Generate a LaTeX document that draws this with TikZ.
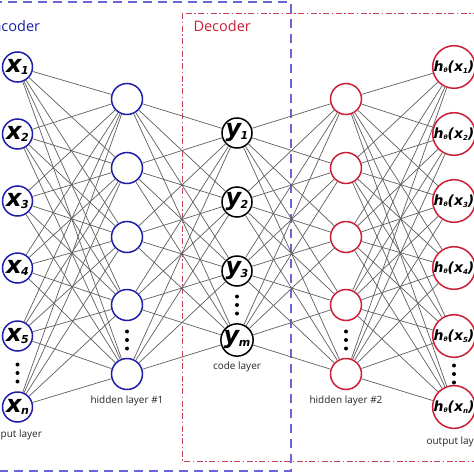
\documentclass[tikz,border=0pt]{standalone}
\usepackage{fontspec}
\setmainfont{Open Sans}
\newfontfamily\nf{DejaVu Sans}
\definecolor{encblue}{RGB}{30,30,170}
\definecolor{decred}{RGB}{205,30,55}
\definecolor{boxblue}{RGB}{105,100,215}
\definecolor{boxred}{RGB}{200,70,90}
\definecolor{edgegray}{RGB}{95,95,95}
\newcommand\nx[2]{{\nf\bfseries\itshape\fontsize{24}{24}\selectfont #1\kern-0.5pt\raisebox{-2.5pt}{\fontsize{11}{11}\selectfont #2}}}
\newcommand\nh[1]{{\nf\bfseries\itshape\fontsize{14}{14}\selectfont h\raisebox{-1.5pt}{\fontsize{6}{6}\selectfont θ}(x\raisebox{-2pt}{\fontsize{7}{7}\selectfont #1})}}
\tikzset{
  neuron/.style={circle, fill=white, line width=1.5pt, inner sep=0pt},
  encn/.style={neuron, draw=encblue, minimum size=30pt},
  hidn/.style={neuron, minimum size=31pt},
  coden/.style={neuron, draw=black, minimum size=30pt},
  outn/.style={neuron, draw=decred, minimum size=42pt},
  edge/.style={draw=edgegray, line width=0.7pt},
  dotmark/.style={circle, fill=black, inner sep=0pt, minimum size=4pt},
  lbl/.style={font=\fontsize{10}{12}\selectfont, text=black!85},
  titlelbl/.style={font=\fontsize{14.5}{16}\selectfont, anchor=west},
}
\begin{document}
\begin{tikzpicture}[x=1pt,y=-1pt]
\useasboundingbox (0,0) rectangle (474,474);
\clip (0,0) rectangle (474,474);
\fill[white] (0,0) rectangle (474,474);
% boxes
\draw[boxblue, line width=2pt, dash pattern=on 9pt off 6pt] (-27,2) rectangle (291,471);
\draw[boxred, line width=1pt, dash pattern=on 6pt off 2.5pt on 1.5pt off 2.5pt] (182,13) rectangle (520,461);
\node[titlelbl, text=encblue] (enc) at (-19,26) {Encoder};
\node[titlelbl, text=decred] (dec) at (190,26) {Decoder};
% input layer
\node[encn] (i1) at (17.5,67) {\nx{x}{1}};
\node[encn] (i2) at (17.5,134) {\nx{x}{2}};
\node[encn] (i3) at (17.5,201) {\nx{x}{3}};
\node[encn] (i4) at (17.5,268) {\nx{x}{4}};
\node[encn] (i5) at (17.5,336) {\nx{x}{5}};
\node[encn] (i6) at (17.5,407) {\nx{x}{n}};
% hidden 1
\foreach \j/\y in {1/99,2/168,3/237,4/305,5/374}
  \node[hidn, draw=encblue] (a\j) at (127,\y) {};
% code
\node[coden] (c1) at (237,133) {\nx{y}{1}};
\node[coden] (c2) at (237,202) {\nx{y}{2}};
\node[coden] (c3) at (237,271) {\nx{y}{3}};
\node[coden] (c4) at (237,340) {\nx{y}{m}};
% hidden 2
\foreach \j/\y in {1/99,2/168,3/237,4/305,5/374}
  \node[hidn, draw=decred] (b\j) at (346,\y) {};
% output
\node[outn] (o1) at (454,67) {\nh{1}};
\node[outn] (o2) at (454,134) {\nh{2}};
\node[outn] (o3) at (454,201) {\nh{3}};
\node[outn] (o4) at (454,268) {\nh{4}};
\node[outn] (o5) at (454,336) {\nh{5}};
\node[outn] (o6) at (454,407) {\nh{n}};
% edges
\foreach \i in {1,...,6} \foreach \j in {1,...,5} \draw[edge] (i\i) -- (a\j);
\foreach \i in {1,...,5} \foreach \j in {1,...,4} \draw[edge] (a\i) -- (c\j);
\foreach \i in {1,...,4} \foreach \j in {1,...,5} \draw[edge] (c\i) -- (b\j);
\foreach \i in {1,...,5} \foreach \j in {1,...,6} \draw[edge] (b\i) -- (o\j);
% dots
\foreach \x/\y in {17.5/373, 127/340, 237/305, 346/340, 454/374}{
  \node[dotmark] at (\x,\y-8.5) {};
  \node[dotmark] at (\x,\y) {};
  \node[dotmark] at (\x,\y+8.5) {};
}
% layer labels
\node[lbl] (l1) at (17,435) {input layer};
\node[lbl] (l2) at (127,401) {hidden layer \#1};
\node[lbl] (l3) at (237,367) {code layer};
\node[lbl] (l4) at (346,401) {hidden layer \#2};
\node[lbl] (l5) at (455,442) {output layer};
\end{tikzpicture}
\end{document}
